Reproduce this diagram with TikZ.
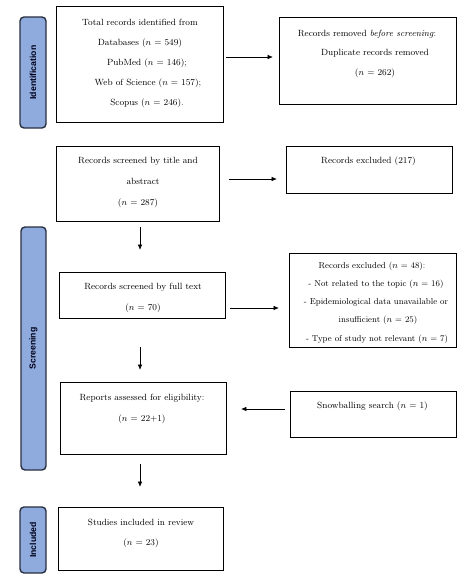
\documentclass[tikz,border=0pt]{standalone}
\usepackage{fontspec}
\newfontfamily\lblfont{Liberation Sans}
\usetikzlibrary{arrows.meta}
\definecolor{lblfill}{RGB}{143,170,220}
\definecolor{lbldraw}{RGB}{40,48,64}
\begin{document}
\begin{tikzpicture}[x=1pt,y=-1pt,
  box/.style={draw=black, line width=0.9pt, inner sep=0pt},
  txt/.style={align=center, inner sep=0pt, font=\fontsize{9pt}{#1}\selectfont},
  txt/.default=20pt,
  phase/.style={draw=lbldraw, fill=lblfill, line width=1.4pt, rounded corners=4pt,
    rotate=90, inner sep=0pt, font=\lblfont\bfseries\fontsize{8.7pt}{10pt}\selectfont, text=black!90!blue},
  arr/.style={line width=0.6pt, -{Triangle[length=5pt,width=4pt]}}]
\useasboundingbox (0,0) rectangle (474,583);

% phase labels
\node[phase, minimum width=111pt, minimum height=26pt] (p1) at (33,72.5) {Identification};
\node[phase, minimum width=243pt, minimum height=25pt] (p2) at (33.5,348.5) {Screening};
\node[phase, minimum width=66pt, minimum height=26pt] (p3) at (33,540) {Included};

% boxes
\node[box, minimum width=167pt, minimum height=116pt] (b1) at (139.5,64) {};
\node[box, minimum width=177pt, minimum height=87pt] (b2) at (367.5,60.5) {};
\node[box, minimum width=163pt, minimum height=75pt] (b3) at (137.5,183.5) {};
\node[box, minimum width=166pt, minimum height=47pt] (b4) at (369,169.5) {};
\node[box, minimum width=166pt, minimum height=46pt] (b5) at (142,295) {};
\node[box, minimum width=167pt, minimum height=94pt] (b6) at (372.5,300) {};
\node[box, minimum width=166pt, minimum height=72pt] (b7) at (143,418) {};
\node[box, minimum width=166pt, minimum height=46pt] (b8) at (373,414) {};
\node[box, minimum width=165pt, minimum height=63pt] (b9) at (140.5,538.5) {};

% texts
\node[txt] (t1) at (140,63) {Total records identified from\\
  Databases ($n$ = 549)\\
  \hspace*{14pt}PubMed ($n$ = 146);\\
  \hspace*{16pt}Web of Science ($n$ = 157);\\
  \hspace*{14pt}Scopus ($n$ = 246).};
\node[txt=19.5pt] (t2) at (367,53.5) {Records removed \textit{before screening}:\\
  \hspace*{16pt}Duplicate records removed\\
  \hspace*{16pt}($n$ = 262)};
\node[txt=21pt] (t3) at (138,182) {Records screened by title and\\
  \hspace*{10pt}abstract\\($n$ = 287)};
\node[txt] (t4) at (368.5,161) {Records excluded (217)};
\node[txt=21pt] (t5) at (143,297.5) {Records screened by full text\\($n$ = 70)};
\node[align=center, inner sep=0pt, font=\fontsize{8.6pt}{18.25pt}\selectfont] (t6) at (376,302.5)
  {\hspace*{-8pt}Records excluded ($n$ = 48):\\
  - Not related to the topic ($n$ = 16)\\
  - Epidemiological data unavailable or\\
  \hspace*{4pt}insufficient ($n$ = 25)\\
  \hspace*{2pt}- Type of study not relevant ($n$ = 7)};
\node[txt=21pt] (t7) at (142,408.5) {Reports assessed for eligibility:\\($n$ = 22+1)};
\node[txt] (t8) at (372.5,406) {Snowballing search ($n$ = 1)};
\node[txt] (t9) at (141,533) {Studies included in review\\($n$ = 23)};

% arrow start points
\coordinate (a1) at ([xshift=3pt,yshift=7pt]b1.east);
\coordinate (a2) at ([xshift=10pt,yshift=4.5pt]b3.east);
\coordinate (a3) at ([xshift=5pt,yshift=-13pt]b5.east);
\coordinate (a4) at ([xshift=-5pt,yshift=5pt]b8.west);
\coordinate (d1) at ([xshift=2.5pt,yshift=-6pt]b3.south);
\coordinate (d2) at ([xshift=-2pt,yshift=-29pt]b5.south);
\coordinate (d3) at ([xshift=-3pt,yshift=-10pt]b7.south);

\draw[arr, shorten >=6pt] (a1) -- (a1 -| b2.west);
\draw[arr, shorten >=9pt] (a2) -- (a2 -| b4.west);
\draw[arr, shorten >=10pt] (a3) -- (a3 -| b6.west);
\draw[arr, shorten >=15pt] (a4) -- (a4 -| b7.east);
\draw[arr, shorten >=22pt] (d1) -- (d1 |- b5.north);
\draw[arr, shorten >=12pt] (d2) -- (d2 |- b7.north);
\draw[arr, shorten >=20pt] (d3) -- (d3 |- b9.north);
\end{tikzpicture}
\end{document}
